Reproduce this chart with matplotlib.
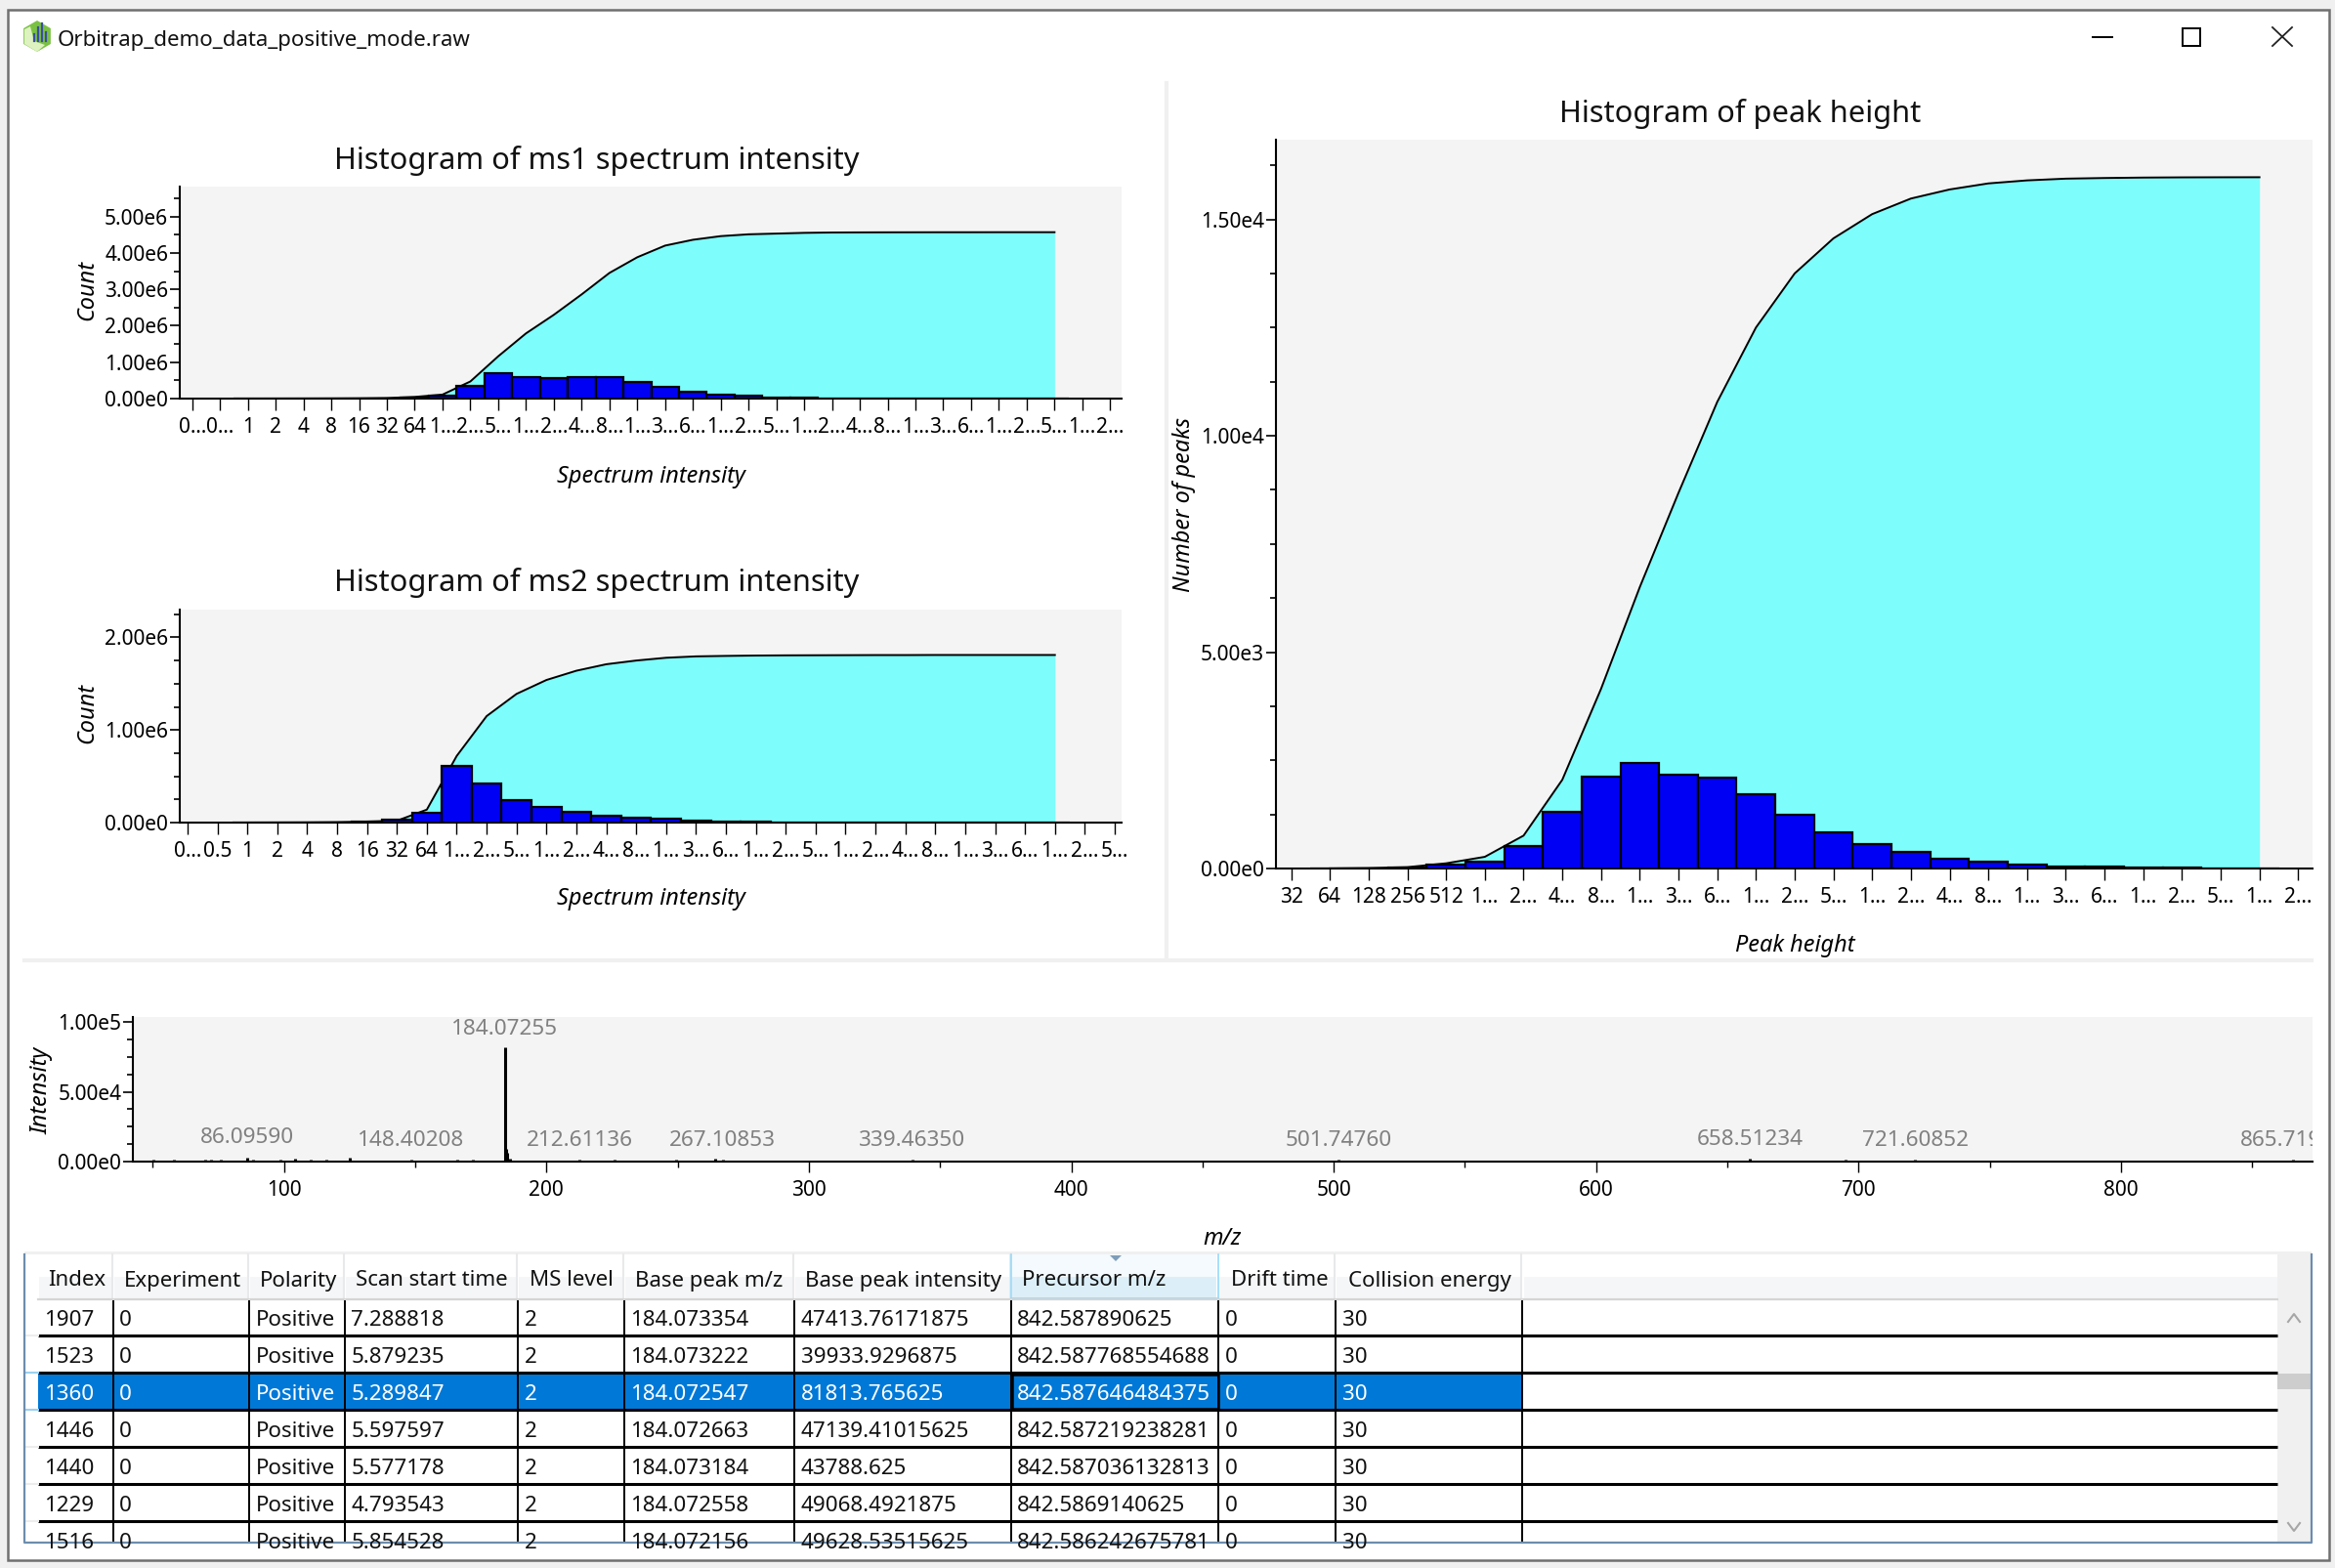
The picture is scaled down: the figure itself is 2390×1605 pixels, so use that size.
import matplotlib
matplotlib.use("Agg")
import matplotlib.pyplot as plt
from matplotlib.patches import Rectangle, RegularPolygon, Polygon
from matplotlib.ticker import MultipleLocator, FuncFormatter

plt.rcParams['font.family'] = ['Noto Sans', 'DejaVu Sans']

W, H = 2390, 1605
CYAN = "#7DFDFB"
PLOT_BG = "#F4F4F4"

# ms1 histogram
ms1_ticks = ["0…", "0…", "1", "2", "4", "8", "16", "32", "64", "1…", "2…", "5…", "1…", "2…", "4…", "8…", "1…",
             "3…", "6…", "1…", "2…", "5…", "1…", "2…", "4…", "8…", "1…", "3…", "6…", "1…", "2…", "5…", "1…", "2…"]
ms1_bins = list(range(2, 32))
ms1_bars = [500, 800, 1200, 2000, 3500, 8000, 30000, 85000, 360000, 710000, 600000, 550000, 580000, 600000, 460000,
            310000, 180000, 110000, 70000, 35000, 20000, 12000, 6000, 3000, 1500, 800, 400, 200, 100, 50]
ms1_cum = [500, 1300, 2500, 4500, 8000, 16000, 46000, 110000, 470000, 1160000, 1790000, 2300000, 2860000, 3450000,
           3880000, 4200000, 4360000, 4460000, 4510000, 4530000, 4550000, 4560000, 4563000, 4565000, 4566000,
           4567000, 4567000, 4568000, 4568000, 4568000]

# ms2 histogram
ms2_ticks = ["0…", "0.5", "1", "2", "4", "8", "16", "32", "64", "1…", "2…", "5…", "1…", "2…", "4…", "8…", "1…",
             "3…", "6…", "1…", "2…", "5…", "1…", "2…", "4…", "8…", "1…", "3…", "6…", "1…", "2…", "5…"]
ms2_bins = list(range(2, 30))
ms2_bars = [500, 800, 1200, 2500, 6000, 30000, 105000, 610000, 420000, 240000, 170000, 117000, 78000, 56000,
            40000, 20000, 12000, 6000, 3000, 1500, 800, 400, 200, 100, 60, 40, 20, 10]
ms2_cum = [500, 1300, 2500, 5000, 11000, 20000, 140000, 720000, 1150000, 1390000, 1540000, 1640000, 1710000, 1750000,
           1780000, 1795000, 1800000, 1804000, 1806000, 1807000, 1808000, 1809000, 1809000, 1810000, 1810000,
           1810000, 1810000, 1810000]

# peak height histogram
peak_ticks = ["32", "64", "128", "256", "512", "1…", "2…", "4…", "8…", "1…", "3…", "6…", "1…", "2…", "5…", "1…",
              "2…", "4…", "8…", "1…", "3…", "6…", "1…", "2…", "5…", "1…", "2…"]
peak_bins = list(range(1, 26))
peak_bars = [3, 8, 20, 100, 165, 530, 1315, 2130, 2440, 2160, 2090, 1710, 1250, 830, 570, 375, 220, 150, 83, 55,
             40, 20, 12, 8, 3]
peak_cum = [3, 11, 31, 120, 270, 760, 2050, 4150, 6500, 8680, 10780, 12500, 13750, 14560, 15120, 15480, 15690,
            15830, 15900, 15940, 15955, 15965, 15970, 15972, 15973]

# spectrum
peak_mz = [50.2, 58.0, 70.1, 72.1, 76.0, 86.1, 88.1, 98.5, 104.1, 110.1, 116.0, 124.9, 148.4, 166.1, 172.0,
           184.07, 184.6, 185.07, 186.1, 212.6, 226.0, 249.5, 264.3, 267.1, 339.5, 501.7, 658.5, 695.0, 721.6, 865.7]
peak_int = [1600, 1500, 1500, 1600, 1500, 3000, 1600, 1500, 2000, 1500, 1500, 2500, 1500, 1500, 1500,
            81813, 9000, 6000, 1800, 1500, 1600, 1500, 1800, 1700, 1600, 1500, 2200, 1600, 1600, 1500]
label_mz = [86.0959, 148.40208, 184.07255, 212.61136, 267.10853, 339.4635, 501.7476, 658.51234, 721.60852, 865.7193]
label_txt = ["86.09590", "148.40208", "184.07255", "212.61136", "267.10853", "339.46350", "501.74760", "658.51234",
             "721.60852", "865.71930"]
label_val = [16800, 15000, 95000, 15000, 15000, 15000, 15000, 15800, 15000, 15000]

# table
columns = ["Index", "Experiment", "Polarity", "Scan start time", "MS level", "Base peak m/z", "Base peak intensity",
           "Precursor m/z", "Drift time", "Collision energy"]
index = ["1907", "1523", "1360", "1446", "1440", "1229", "1516"]
experiment = ["0"] * 7
polarity = ["Positive"] * 7
scan_time = ["7.288818", "5.879235", "5.289847", "5.597597", "5.577178", "4.793543", "5.854528"]
ms_level = ["2"] * 7
base_mz = ["184.073354", "184.073222", "184.072547", "184.072663", "184.073184", "184.072558", "184.072156"]
base_int = ["47413.76171875", "39933.9296875", "81813.765625", "47139.41015625", "43788.625", "49068.4921875",
            "49628.53515625"]
precursor = ["842.587890625", "842.587768554688", "842.587646484375", "842.587219238281", "842.587036132813",
             "842.5869140625", "842.586242675781"]
drift = ["0"] * 7
collision = ["30"] * 7
table_cols = [index, experiment, polarity, scan_time, ms_level, base_mz, base_int, precursor, drift, collision]
col_left = [39, 115.6, 255, 353, 530, 639, 813.5, 1034.7, 1247.4, 1367.5, 1558]
header_x = [49, 127, 266, 364, 542, 650.5, 824, 1046, 1259.6, 1380]


def px_axes(left, top, right, bottom):
    ax = fig.add_axes([left / W, 1 - bottom / H, (right - left) / W, (bottom - top) / H], zorder=2)
    ax.set_facecolor(PLOT_BG)
    for s in ["top", "right"]:
        ax.spines[s].set_visible(False)
    for s in ["left", "bottom"]:
        ax.spines[s].set_linewidth(1.5)
    return ax


def sci(v, pos):
    if v == 0:
        return "0.00e0"
    m, e = f"{v:.2e}".split("e")
    return f"{m}e{int(e)}"


def histogram(ax, bins, bars, cum, labels, xlim, top, major, minor):
    ax.fill_between(bins, cum, 0, color=CYAN, lw=0, zorder=1)
    ax.plot(bins, cum, color="black", lw=1.4, zorder=2)
    ax.bar(bins, bars, width=1, color="#0000F5", edgecolor="black", lw=1.6, zorder=3)
    ax.set_xlim(*xlim)
    ax.set_ylim(0, top)
    ax.set_xticks(range(len(labels)))
    ax.set_xticklabels(labels)
    ax.yaxis.set_major_locator(MultipleLocator(major))
    ax.yaxis.set_minor_locator(MultipleLocator(minor))
    ax.yaxis.set_major_formatter(FuncFormatter(sci))
    ax.tick_params(axis="x", length=8.5, width=1.0, labelsize=15, pad=5.5)
    ax.tick_params(axis="y", which="major", length=7, width=1.2, labelsize=15, pad=1.5)
    ax.tick_params(axis="y", which="minor", length=4, width=1.2)


fig = plt.figure(figsize=(W / 100, H / 100), dpi=100, facecolor="#F0F0F0")

# window chrome and everything in pixel coordinates goes on this one
bg = fig.add_axes([0, 0, 1, 1], zorder=1)
bg.set_xlim(0, W)
bg.set_ylim(H, 0)
bg.axis("off")
bg.add_patch(Rectangle((8, 10), 2376, 1587, fc="white", ec="#707070", lw=1.8))
bg.text(59, 41, "Orbitrap_demo_data_positive_mode.raw", fontsize=16, va="center", color="#111111")

# icon
bg.add_patch(RegularPolygon((38, 37), 6, radius=16, fc="#7AC143", ec="none"))
bg.add_patch(Polygon([[25, 30], [31, 27], [35, 42], [46, 46], [38, 53], [25, 45]], fc="#DDF2C0", ec="none"))
for bx, bh in zip([35, 39, 43, 47], [7, 14, 18, 9]):
    bg.plot([bx, bx], [42, 42 - bh], color="#3A4FA0", lw=1.6)

# window buttons
bg.plot([2142, 2162], [38, 38], color="black", lw=1.4)
bg.add_patch(Rectangle((2234, 29), 18, 18, fc="none", ec="black", lw=1.4))
bg.plot([2326, 2346], [28, 47], color="#222222", lw=1.3)
bg.plot([2326, 2346], [47, 28], color="#222222", lw=1.3)

# splitters
bg.plot([1194, 1194], [85, 982], color="#F0F0F0", lw=3)
bg.plot([25, 2366], [983, 983], color="#F0F0F0", lw=3)

# ms1
ax1 = px_axes(184, 191, 1148, 408)
histogram(ax1, ms1_bins, ms1_bars, ms1_cum, ms1_ticks, (-0.446, 33.41), 5.82e6, 1e6, 5e5)
bg.text(611, 164, "Histogram of ms1 spectrum intensity", fontsize=22.2, ha="center", va="center", color="#111111")
bg.text(666, 488, "Spectrum intensity", fontsize=16.9, style="italic", ha="center", va="center")
bg.text(89, 297, "Count", fontsize=16.9, style="italic", rotation=90, ha="center", va="center")

# ms2
ax2 = px_axes(184, 624, 1148, 842)
histogram(ax2, ms2_bins, ms2_bars, ms2_cum, ms2_ticks, (-0.261, 31.23), 2.30e6, 1e6, 2.5e5)
bg.text(611, 597, "Histogram of ms2 spectrum intensity", fontsize=22.2, ha="center", va="center", color="#111111")
bg.text(666, 920, "Spectrum intensity", fontsize=16.9, style="italic", ha="center", va="center")
bg.text(89, 730, "Count", fontsize=16.9, style="italic", rotation=90, ha="center", va="center")

# peak height
ax3 = px_axes(1306, 143, 2367, 889)
histogram(ax3, peak_bins, peak_bars, peak_cum, peak_ticks, (-0.393, 26.37), 16840, 5000, 1250)
bg.text(1781, 116, "Histogram of peak height", fontsize=22.2, ha="center", va="center", color="#111111")
bg.text(1837, 968, "Peak height", fontsize=16.9, style="italic", ha="center", va="center")
bg.text(1212, 517, "Number of peaks", fontsize=16.9, style="italic", rotation=90, ha="center", va="center")

# spectrum
ax4 = px_axes(136, 1041, 2367, 1189)
ax4.vlines(peak_mz, 0, peak_int, color="black", lw=2.2)
ax4.set_xlim(42.4, 873)
ax4.set_ylim(0, 1.035e5)
ax4.xaxis.set_major_locator(MultipleLocator(100))
ax4.xaxis.set_minor_locator(MultipleLocator(50))
ax4.yaxis.set_major_locator(MultipleLocator(5e4))
ax4.yaxis.set_minor_locator(MultipleLocator(1.25e4))
ax4.yaxis.set_major_formatter(FuncFormatter(sci))
ax4.tick_params(axis="x", which="major", length=8, width=1.0, labelsize=15, pad=6)
ax4.tick_params(axis="x", which="minor", length=4.5, width=1.0)
ax4.tick_params(axis="y", which="major", length=7, width=1.2, labelsize=15, pad=1.5)
ax4.tick_params(axis="y", which="minor", length=4, width=1.2)
for mz, txt, v in zip(label_mz, label_txt, label_val):
    ax4.text(mz, v, txt, color="#808080", fontsize=16.2, ha="center", va="center", clip_on=True)
bg.text(1251, 1268, "m/z", fontsize=16.9, style="italic", ha="center", va="center")
bg.text(42, 1116, "Intensity", fontsize=16.9, style="italic", rotation=90, ha="center", va="center")

# table frame and header
row_top = 1330
row_h = 38
n_rows = len(index)
table_bottom = 1579
bg.add_patch(Rectangle((25, 1281), 2341, 298, fc="white", ec="none"))
bg.add_patch(Rectangle((25, 1281), 2341, 3, fc="#F0F0F0", ec="none"))
for i, name in enumerate(columns):
    x0, x1 = col_left[i], col_left[i + 1]
    sorted_col = name == "Precursor m/z"
    upper, lower = ("#F4FAFD", "#DCEFF9") if sorted_col else ("#FFFFFF", "#F5F6F7")
    bg.add_patch(Rectangle((x0 + 1, 1284), x1 - x0 - 3, 23, fc=upper, ec="none"))
    bg.add_patch(Rectangle((x0 + 1, 1307), x1 - x0 - 3, 22, fc=lower, ec="none"))
    if sorted_col:
        bg.plot([x0, x0], [1284, 1329], color="#96D9F9", lw=1.2)
        bg.plot([x1, x1], [1284, 1329], color="#96D9F9", lw=1.2)
        bg.plot([x0, x1], [1329, 1329], color="#96D9F9", lw=1.2)
    else:
        bg.plot([x1 - 1, x1 - 1], [1284, 1329], color="#E8E9EA", lw=1.5)
    bg.text(header_x[i], 1311, name, fontsize=16, va="center", color="#111111")
bg.add_patch(Rectangle((1560, 1284), 771, 23, fc="white", ec="none"))
bg.add_patch(Rectangle((1560, 1307), 771, 22, fc="#F5F6F7", ec="none"))
bg.plot([39, 2331], [1330, 1330], color="#D5D5D5", lw=1.6)
bg.add_patch(Polygon([[1136, 1285], [1148, 1285], [1142, 1291]], fc="#7F9DB9", ec="none"))

# table rows
clip = Rectangle((25, 1330), 2341, table_bottom - 1331, transform=bg.transData, fc="none", ec="none")
bg.add_patch(clip)
selected = 2
bg.add_patch(Rectangle((39, row_top + (selected - 1) * row_h + 37), col_left[-1] - 39, row_h, fc="#0078D7", ec="none"))
for r in range(n_rows):
    y_mid = row_top + 21.5 + r * row_h
    for c, col in enumerate(table_cols):
        t = bg.text(col_left[c] + 6.5, y_mid, col[r], fontsize=16.1, va="center",
                    color="white" if r == selected else "#111111")
        t.set_clip_path(clip)
    if r < n_rows - 1:
        line_y = row_top + 37 + r * row_h
        bg.plot([39, 2331], [line_y, line_y], color="black", lw=2.2, solid_capstyle="butt")
for x in col_left[1:]:
    bg.plot([x, x], [1331, table_bottom], color="black", lw=1.4, solid_capstyle="butt")
bg.add_patch(Rectangle((1036, row_top + (selected - 1) * row_h + 39), 211, row_h - 3, fc="none", ec="black", lw=1.8))

# left row header strip
for r in range(n_rows - 1):
    line_y = row_top + 37 + r * row_h
    bg.plot([27, 39], [line_y, line_y], color="#9BD1F0" if r in (1, 2) else "#EDEDED", lw=1.5)

# scrollbar
bg.add_patch(Rectangle((2331, 1284), 35, table_bottom - 1284, fc="#F0F0F0", ec="none"))
bg.add_patch(Rectangle((2331, 1406), 35, 16, fc="#CDCDCD", ec="none"))
bg.plot([2342, 2348, 2354], [1353, 1345, 1353], color="#A6A6A6", lw=1.5)
bg.plot([2342, 2348, 2354], [1559, 1567, 1559], color="#A6A6A6", lw=1.5)

# table border
bg.plot([25, 25, 2366, 2366], [1284, table_bottom, table_bottom, 1284], color="#6D8DAE", lw=1.6)

fig.savefig("out.png", dpi=100, facecolor=fig.get_facecolor())
